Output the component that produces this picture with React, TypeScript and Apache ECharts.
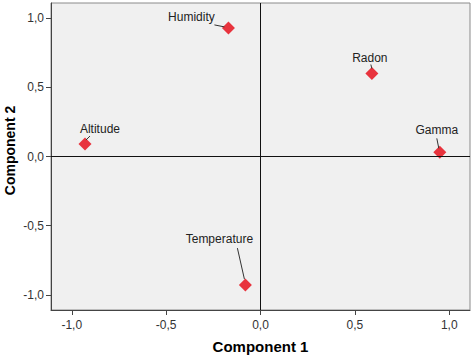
import React, { useEffect, useRef } from "react";
import * as echarts from "echarts";

const names = ["Altitude", "Humidity", "Radon", "Gamma", "Temperature"];
const component1 = [-0.93, -0.17, 0.59, 0.95, -0.08];
const component2 = [0.09, 0.93, 0.6, 0.03, -0.93];
const tickValues = [-1.0, -0.5, 0.0, 0.5, 1.0];

// label placement (pixel offsets relative to the point): text centre, leader start, leader end
const labelOffsets = [
  { t: [15, -15], a: [5, -8], b: [1, -4] },
  { t: [-37, -11], a: [-14, -3], b: [-4, -1] },
  { t: [-2, -16], a: [-1, -9], b: [0, -5] },
  { t: [-3, -22], a: [-3, -14], b: [-1, -4] },
  { t: [-26, -46], a: [-8, -37], b: [-1, -6] },
];

const fmt = (v: number) => v.toFixed(1).replace(".", ",");
const FONT = "'Liberation Sans', Arial, sans-serif";

export default function App() {
  const ref = useRef<HTMLDivElement>(null);
  useEffect(() => {
    if (!ref.current) return;
    const chart = echarts.init(ref.current, null, { renderer: "svg" });
    const points = names.map((n, i) => [component1[i], component2[i], n]);
    chart.setOption({
      animation: false,
      textStyle: { fontFamily: FONT },
      grid: {
        left: 51,
        right: 4,
        top: 3,
        bottom: 49,
        outerBoundsMode: "none",
        containLabel: false,
        show: true,
        backgroundColor: "#f0f0f0",
        borderColor: "#8a8a8a",
        borderWidth: 1,
      },
      xAxis: {
        type: "value",
        min: -1.11,
        max: 1.11,
        name: "Component 1",
        nameLocation: "middle",
        nameGap: 29,
        nameTextStyle: { fontSize: 15, fontWeight: "bold", color: "#000", fontFamily: FONT },
        axisLine: { show: true, onZero: false, lineStyle: { color: "#444", width: 1 } },
        axisTick: { show: true, length: 5, customValues: tickValues, lineStyle: { color: "#444" } },
        axisLabel: {
          customValues: tickValues,
          formatter: fmt,
          color: "#333",
          fontSize: 12,
          margin: 9,
          fontFamily: FONT,
        },
        splitLine: { show: false },
      },
      yAxis: {
        type: "value",
        min: -1.11,
        max: 1.11,
        name: "Component 2",
        nameLocation: "middle",
        nameGap: 34,
        nameMoveOverlap: false,
        nameTextStyle: {
          fontSize: 14,
          lineHeight: 14,
          fontWeight: "bold",
          color: "#000",
          fontFamily: FONT,
          padding: [0, 0, 0, 12],
        },
        axisLine: { show: true, onZero: false, lineStyle: { color: "#444", width: 1 } },
        axisTick: { show: true, length: 5, customValues: tickValues, lineStyle: { color: "#444" } },
        axisLabel: {
          customValues: tickValues,
          formatter: fmt,
          color: "#333",
          fontSize: 12,
          margin: 7,
          fontFamily: FONT,
        },
        splitLine: { show: false },
      },
      series: [
        {
          type: "scatter",
          data: points,
          symbol: "diamond",
          symbolSize: 13,
          itemStyle: { color: "#e8333d", opacity: 1 },
          z: 3,
          markLine: {
            silent: true,
            symbol: ["none", "none"],
            label: { show: false },
            lineStyle: { color: "#111", width: 1, type: "solid" },
            data: [{ xAxis: 0 }, { yAxis: 0 }],
          },
        },
        {
          type: "custom",
          data: points,
          z: 4,
          renderItem: (params: any, api: any) => {
            const p = api.coord([api.value(0), api.value(1)]);
            const o = labelOffsets[params.dataIndex];
            return {
              type: "group",
              children: [
                {
                  type: "line",
                  shape: { x1: p[0] + o.a[0], y1: p[1] + o.a[1], x2: p[0] + o.b[0], y2: p[1] + o.b[1] },
                  style: { stroke: "#333", lineWidth: 1 },
                },
                {
                  type: "text",
                  style: {
                    text: names[params.dataIndex],
                    x: p[0] + o.t[0],
                    y: p[1] + o.t[1],
                    align: "center",
                    verticalAlign: "middle",
                    fill: "#222",
                    font: `12px ${FONT}`,
                  },
                },
              ],
            };
          },
        },
      ],
    });
    return () => chart.dispose();
  }, []);
  return (
    <div
      ref={ref}
      style={{ position: "fixed", left: 0, top: 0, width: 474, height: 359, background: "#fff" }}
    />
  );
}
